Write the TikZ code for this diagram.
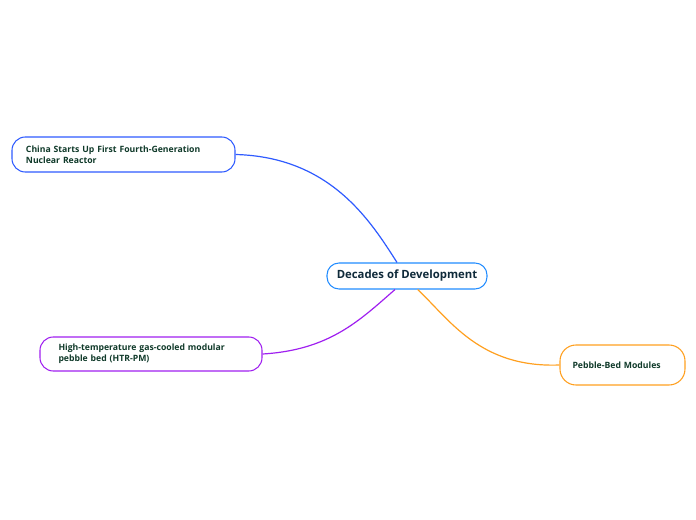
\documentclass[tikz,border=0pt]{standalone}
\usepackage{fontspec}
\setmainfont{Open Sans}
\definecolor{cblue}{HTML}{2F5BFF}
\definecolor{cpurp}{HTML}{A020F0}
\definecolor{corange}{HTML}{FFA020}
\definecolor{ctext}{HTML}{0F2A3A}
\definecolor{ctextg}{HTML}{103A2A}
\begin{document}
\begin{tikzpicture}[x=0.75pt,y=-0.75pt,
  box/.style={draw,rounded corners=10pt,line width=0.8pt,fill=white,inner sep=0pt,text=ctextg,font=\fontsize{6.5}{8}\selectfont\bfseries,align=left},
  link/.style={line width=0.9pt}]
\useasboundingbox[fill=white] (0,0) rectangle (696,520);
\node[box,draw=cblue!70!cyan,text=ctext,font=\fontsize{8.5}{10}\selectfont\bfseries,minimum width=160*0.75pt,minimum height=26*0.75pt,rounded corners=9pt,align=center] (c) at (407,276) {Decades of Development};
\node[box,draw=cblue,minimum width=223*0.75pt,minimum height=35*0.75pt,text width=195*0.75pt] (a) at (123.5,154.5) {China Starts Up First Fourth-Generation\\Nuclear Reactor};
\node[box,draw=cpurp,minimum width=222*0.75pt,minimum height=34*0.75pt,text width=185*0.75pt] (b) at (151,354) {High-temperature gas-cooled modular\\pebble bed (HTR-PM)};
\node[box,draw=corange,minimum width=125*0.75pt,minimum height=40*0.75pt,text width=100*0.75pt,rounded corners=12pt] (d) at (622.5,365) {Pebble-Bed Modules};
\begin{scope}[on background layer/.style={}]
\end{scope}
\draw[link,cblue] (a.east) .. controls (330,157) and (370,220) .. ([xshift=-7.5pt]c.north);
\draw[link,cpurp] (b.east) .. controls (330,350) and (360,320) .. ([xshift=-9pt]c.south);
\draw[link,corange] (d.west) .. controls (480,368) and (450,320) .. ([xshift=8pt]c.south);
\end{tikzpicture}
\end{document}
